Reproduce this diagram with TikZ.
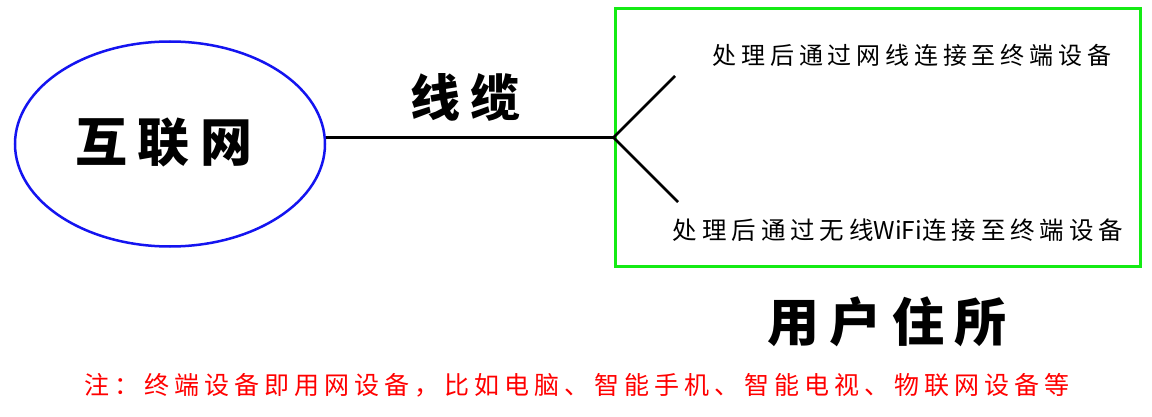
\documentclass[tikz,border=0pt]{standalone}
\usepackage{fontspec}
\newfontfamily\cjksmall[LetterSpace=20]{Noto Sans CJK SC}
\newfontfamily\cjkplain{Noto Sans CJK SC}
\newfontfamily\cjkbig[LetterSpace=20]{Noto Sans CJK SC}
\usetikzlibrary{shapes.geometric}
\definecolor{boxgreen}{RGB}{20,235,20}
\definecolor{ellblue}{RGB}{20,20,240}
\definecolor{notered}{RGB}{255,0,0}
\tikzset{
  bigtext/.style={font=\cjkbig\bfseries\fontsize{52}{56}\selectfont, inner sep=0pt},
  smalltext/.style={font=\cjksmall\fontsize{24}{28}\selectfont, inner sep=0pt},
  notetext/.style={font=\cjksmall\fontsize{25}{28}\selectfont, text=notered, inner sep=0pt},
  wire/.style={black, line width=2.5pt},
}
\begin{document}
\begin{tikzpicture}[x=1pt,y=-1pt]
\useasboundingbox (0,0) rectangle (1152,417);
\fill[white] (0,0) rectangle (1152,417);
\node[ellipse, draw=ellblue, line width=2.5pt, minimum width=310pt, minimum height=205pt, inner sep=0pt] (net) at (170,144) {};
\node[bigtext] (nettxt) at (164,142) {互联网};
\node[draw=boxgreen, line width=3pt, minimum width=525pt, minimum height=257pt, inner sep=0pt] (home) at (877.5,137.5) {};
\coordinate (hub) at (home.west);
\coordinate (b1) at (675,76);
\coordinate (b2) at (678,202);
\draw[wire] (hub -| net.east) -- (hub);
\draw[wire] (b1) -- (hub) -- (b2);
\node[bigtext, font=\cjkbig\bfseries\fontsize{50}{54}\selectfont] (cable) at (465,97) {线缆};
\node[smalltext] (t1) at (912,55) {处理后通过网线连接至终端设备};
\node[smalltext, font=\cjksmall\fontsize{24.5}{28}\selectfont] (t2) at (898,230) {处理后通过无线{\cjkplain WiFi}连接至终端设备};
\node[bigtext] (user) at (887,322) {用户住所};
\node[notetext] (note) at (577,385) {注：终端设备即用网设备，比如电脑、智能手机、智能电视、物联网设备等};
\end{tikzpicture}
\end{document}
